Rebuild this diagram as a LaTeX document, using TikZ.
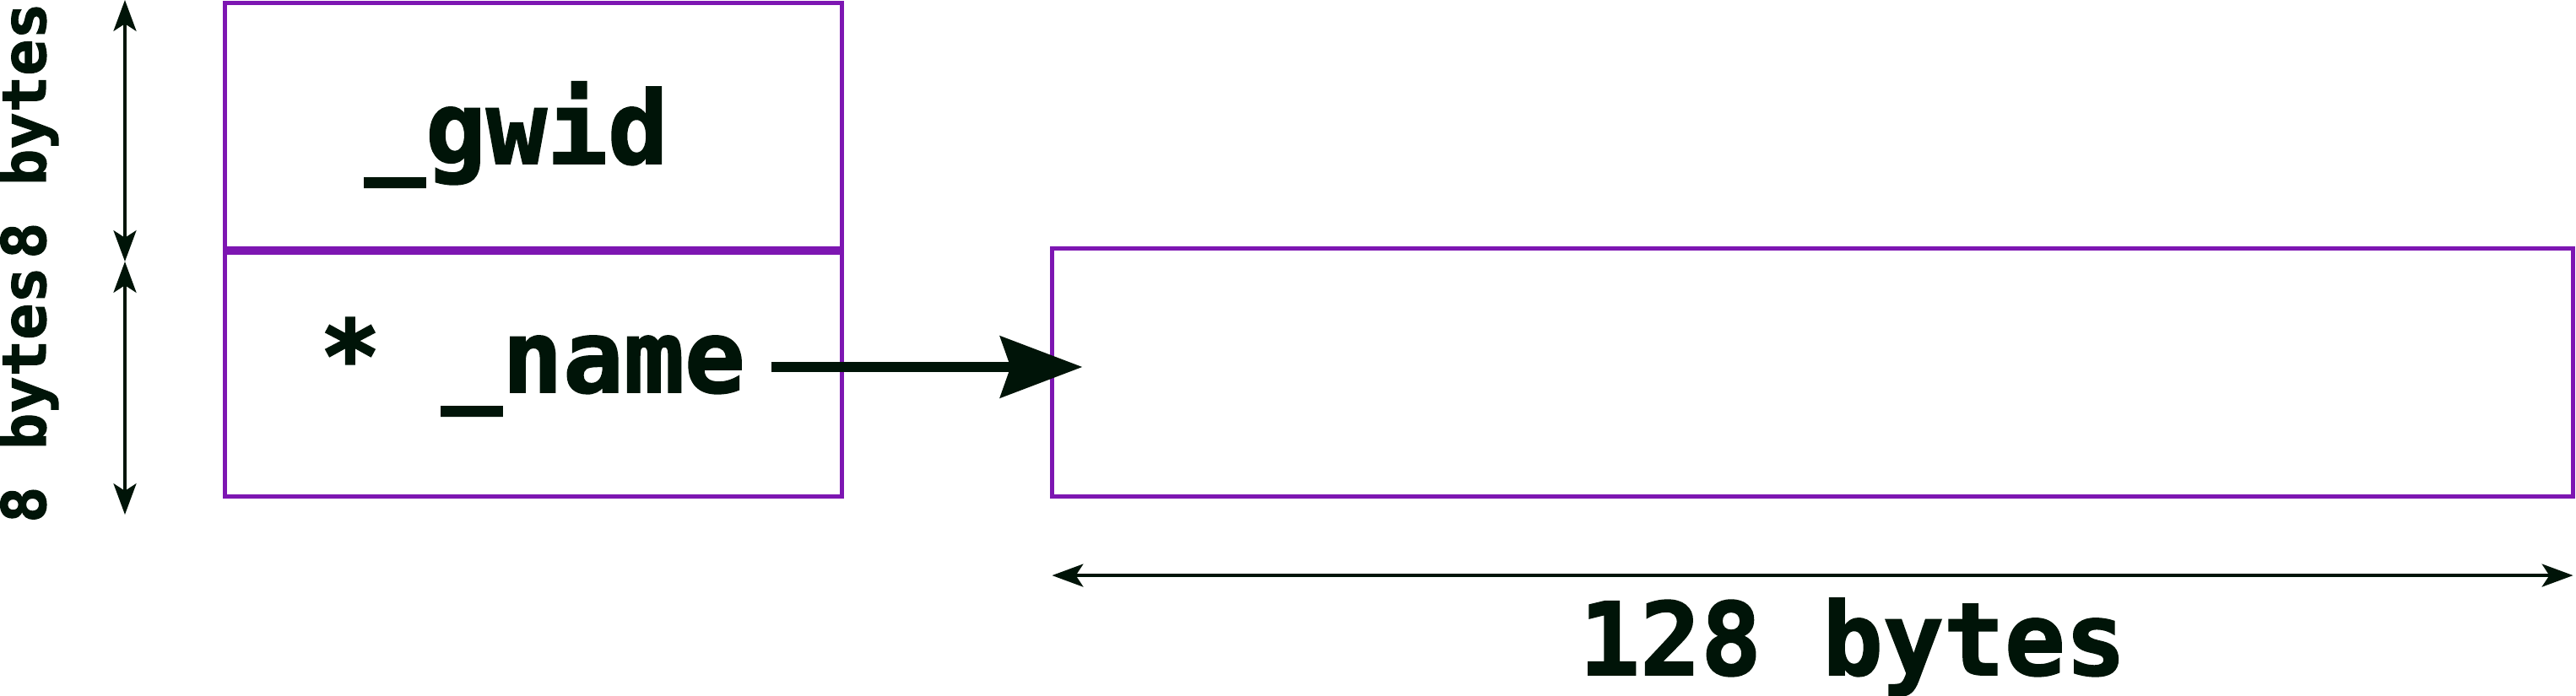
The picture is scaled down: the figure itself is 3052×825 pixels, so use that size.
\documentclass[tikz,border=0pt]{standalone}
\usepackage{fontspec}
\setmonofont[BoldFeatures={FakeBold=1.6}]{DejaVu Sans Mono}
\usetikzlibrary{calc,arrows.meta}
\definecolor{fieldpurple}{RGB}{125,22,178}
\definecolor{inkdark}{RGB}{0,20,8}

\begin{document}
\begin{tikzpicture}[x=0.01cm, y=-0.01cm,
  field/.style={draw=fieldpurple, line width=1.45pt, inner sep=0pt, outer sep=0pt},
  lbl/.style={text=inkdark, font=\ttfamily\bfseries\fontsize{34pt}{40pt}\selectfont, anchor=base, inner sep=0pt},
  side/.style={text=inkdark, font=\ttfamily\bfseries\fontsize{20.5pt}{24pt}\selectfont, anchor=base, inner sep=0pt, rotate=90},
  dim/.style={draw=inkdark, line width=0.95pt, {Stealth[length=10.5pt, width=7.7pt, inset=2.5pt]}-{Stealth[length=10.5pt, width=7.7pt, inset=2.5pt]}},
  ptr/.style={draw=inkdark, line width=3.4pt, -{Stealth[length=27.6pt, width=20.5pt, inset=3.4pt]}}]

  \useasboundingbox (0,0) rectangle (3052,825);

  % Struct fields
  \node[field, minimum width=7.3cm, minimum height=2.905cm] (gwid) at (632,149) {};
  \node[field, minimum width=7.3cm, minimum height=2.895cm] (name) at (632,444) {};

  % Name buffer
  \node[field, minimum width=18.01cm, minimum height=2.93cm] (buf) at (2147.5,441.5) {};

  % Texts
  \node[lbl] (gwidtxt) at (612,194) {\_gwid};
  \node[lbl] (nametxt) at (631,465) {* \_name};
  \node[lbl] (buftxt) at (2195,800) {128 bytes};

  % Sizes on the left
  \node[side] (gwidsize) at (54,155) {8 bytes};
  \node[side] (namesize) at (54,468) {8 bytes};

  \coordinate (dtop) at (148,0);
  \coordinate (dmid) at (148,310);
  \coordinate (dbot) at (148,610);
  \draw[dim] (dtop) -- (dmid);
  \draw[dim] (dmid) -- (dbot);

  % Buffer size
  \draw[dim] ($(buf.south west)+(0,94)$) -- ($(buf.south east)+(0,94)$);

  % Pointer
  \coordinate (ptrtip) at ($(buf.west)+(36,-6.5)$);
  \draw[ptr] ([xshift=8.5pt]nametxt.east |- ptrtip) -- (ptrtip);

\end{tikzpicture}
\end{document}
